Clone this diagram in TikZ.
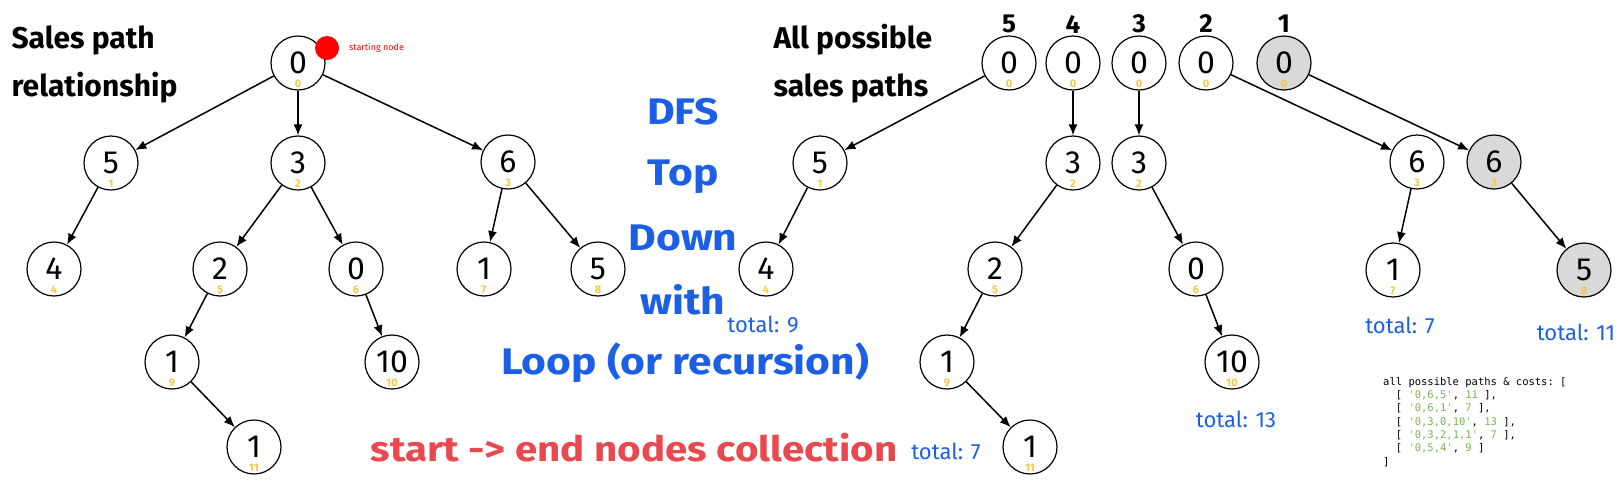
\documentclass[tikz,border=0pt]{standalone}
\usepackage{fontspec}
\setmainfont{Fira Sans}
\setmonofont{DejaVu Sans Mono}
\newfontfamily\widefont[FakeStretch=1.15]{Fira Sans}
\usepackage{xcolor}
\usetikzlibrary{arrows.meta,positioning}
\definecolor{idxyellow}{RGB}{247,200,70}
\definecolor{dfsblue}{RGB}{27,95,230}
\definecolor{startred}{RGB}{232,72,78}
\definecolor{codegreen}{RGB}{122,180,80}
\definecolor{visitgray}{RGB}{217,217,217}
\newcommand{\cstr}[1]{\textcolor{codegreen}{#1}}

\begin{document}
\begin{tikzpicture}[x=1pt, y=-1pt,
  cnode/.style={circle, draw, line width=1.2pt, minimum size=54pt, inner sep=0pt, font=\fontsize{32}{32}\selectfont},
  seen/.style={cnode, fill=visitgray},
  idx/.style={font=\fontsize{11}{11}\selectfont\bfseries, text=idxyellow, inner sep=0pt, yshift=-21pt},
  arr/.style={line width=1.5pt, -{Latex[length=11pt,width=9pt]}},
  title/.style={font=\fontsize{30}{48}\selectfont\bfseries, align=left, anchor=west},
  blue/.style={font=\widefont\fontsize{37}{37}\selectfont\bfseries, text=dfsblue},
  total/.style={font=\fontsize{22}{22}\selectfont, text=dfsblue},
  count/.style={font=\fontsize{26}{26}\selectfont\bfseries}
]
\useasboundingbox (0,0) rectangle (1622,483);

% left tree
\node[title] (ltitle) at (8,64) {Sales path\\relationship};
\node[cnode, label={[idx]center:0}] (l0) at (298,63) {0};
\node[circle, fill=red, minimum size=24pt, inner sep=0pt] (startdot) at (327,48) {};
\node[anchor=west, font=\fontsize{9}{9}\selectfont, text=red, inner sep=0pt] (starttxt) at (349,48) {starting node};
\node[cnode, label={[idx]center:1}] (l5) at (111,163) {5};
\node[cnode, label={[idx]center:2}] (l3) at (298,163) {3};
\node[cnode, label={[idx]center:3}] (l6) at (508,162) {6};
\node[cnode, label={[idx]center:4}] (l4) at (54,269) {4};
\node[cnode, label={[idx]center:5}] (l2) at (220,269) {2};
\node[cnode, label={[idx]center:6}] (l0b) at (356,269) {0};
\node[cnode, label={[idx]center:7}] (l1a) at (484,269) {1};
\node[cnode, label={[idx]center:8}] (l5b) at (598,269) {5};
\node[cnode, label={[idx]center:9}] (l1b) at (172,362) {1};
\node[cnode, label={[idx]center:10}] (l10) at (392,362) {10};
\node[cnode, label={[idx]center:11}] (l1c) at (254,447) {1};
\draw[arr] (l0) -- (l5);
\draw[arr] (l0) -- (l3);
\draw[arr] (l0) -- (l6);
\draw[arr] (l5) -- (l4);
\draw[arr] (l3) -- (l2);
\draw[arr] (l3) -- (l0b);
\draw[arr] (l6) -- (l1a);
\draw[arr] (l6) -- (l5b);
\draw[arr] (l2) -- (l1b);
\draw[arr] (l0b) -- (l10);
\draw[arr] (l1b) -- (l1c);

% middle text
\node[blue] (dfs) at (683,112) {DFS};
\node[blue] (top) at (683,177) {Top};
\node[blue] (down) at (683,238) {Down};
\node[blue] (with) at (683,300) {with};
\node[blue] (loop) at (685,363) {Loop (or recursion)};
\node[font=\widefont\fontsize{35}{35}\selectfont\bfseries, text=startred] (collect) at (634,448) {start -> end nodes collection};

% right tree
\node[title] (rtitle) at (770,64) {All possible\\sales paths};
\node[cnode, label={[idx]center:0}] (r0a) at (1009,63) {0};
\node[cnode, label={[idx]center:0}] (r0b) at (1073,63) {0};
\node[cnode, label={[idx]center:0}] (r0c) at (1139,63) {0};
\node[cnode, label={[idx]center:0}] (r0d) at (1206,63) {0};
\node[seen, label={[idx]center:0}] (r0e) at (1284,63) {0};
\node[count] (c5) at (1009,24) {5};
\node[count] (c4) at (1073,24) {4};
\node[count] (c3) at (1139,24) {3};
\node[count] (c2) at (1206,24) {2};
\node[count] (c1) at (1284,24) {1};
\node[cnode, label={[idx]center:1}] (r5) at (820,163) {5};
\node[cnode, label={[idx]center:2}] (r3a) at (1073,163) {3};
\node[cnode, label={[idx]center:2}] (r3b) at (1139,163) {3};
\node[cnode, label={[idx]center:3}] (r6a) at (1417,162) {6};
\node[seen, label={[idx]center:3}] (r6b) at (1494,162) {6};
\node[cnode, label={[idx]center:4}] (r4) at (766,269) {4};
\node[cnode, label={[idx]center:5}] (r2) at (995,269) {2};
\node[cnode, label={[idx]center:6}] (r0f) at (1196,269) {0};
\node[cnode, label={[idx]center:7}] (r1a) at (1393,270) {1};
\node[seen, label={[idx]center:8}] (r5b) at (1584,270) {5};
\node[cnode, label={[idx]center:9}] (r1b) at (947,362) {1};
\node[cnode, label={[idx]center:10}] (r10) at (1232,362) {10};
\node[cnode, label={[idx]center:11}] (r1c) at (1030,447) {1};
\draw[arr] (r0a) -- (r5);
\draw[arr] (r5) -- (r4);
\draw[arr] (r0b) -- (r3a);
\draw[arr] (r3a) -- (r2);
\draw[arr] (r2) -- (r1b);
\draw[arr] (r1b) -- (r1c);
\draw[arr] (r0c) -- (r3b);
\draw[arr] (r3b) -- (r0f);
\draw[arr] (r0f) -- (r10);
\draw[arr] (r0d) -- (r6a);
\draw[arr] (r6a) -- (r1a);
\draw[arr] (r0e) -- (r6b);
\draw[arr] (r6b) -- (r5b);

% totals
\node[total] (t9) at (763,324) {total: 9};
\node[total] (t7a) at (946,451) {total: 7};
\node[total] (t13) at (1236,419) {total: 13};
\node[total] (t7b) at (1400,325) {total: 7};
\node[total] (t11) at (1576,332) {total: 11};

% console output
\node[anchor=north west, align=left, inner sep=0pt, font=\ttfamily\fontsize{10.5}{13.3}\selectfont] (code) at (1383,377) {%
all possible paths \& costs: [\\
\phantom{xx}[ \cstr{'0,6,5'}, \cstr{11} ],\\
\phantom{xx}[ \cstr{'0,6,1'}, \cstr{7} ],\\
\phantom{xx}[ \cstr{'0,3,0,10'}, \cstr{13} ],\\
\phantom{xx}[ \cstr{'0,3,2,1,1'}, \cstr{7} ],\\
\phantom{xx}[ \cstr{'0,5,4'}, \cstr{9} ]\\
]};
\end{tikzpicture}
\end{document}
